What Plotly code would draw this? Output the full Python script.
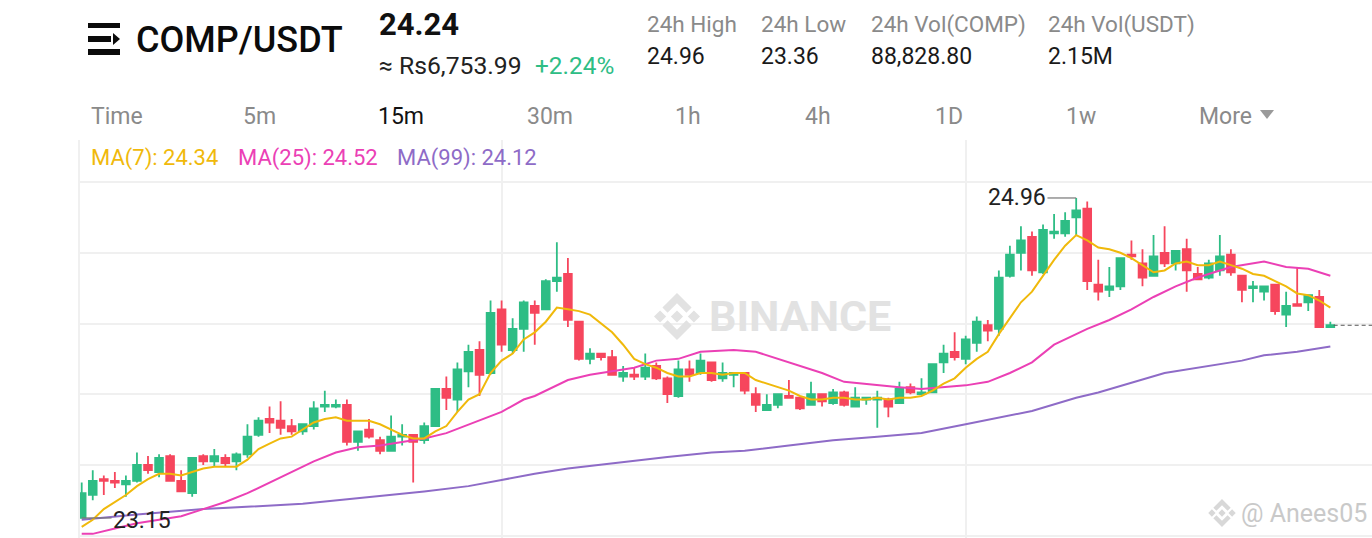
import plotly.graph_objects as go

W, H = 1372, 538

opens = [23.15,23.28,23.37,23.36,23.34,23.36,23.45,23.41,23.50,23.36,23.29,23.50,23.47,23.49,23.47,23.51,23.62,23.71,23.70,23.67,
         23.64,23.67,23.78,23.78,23.79,23.58,23.65,23.59,23.53,23.61,23.62,23.59,23.67,23.88,23.82,23.98,24.10,23.97,24.33,24.10,
         24.22,24.35,24.33,24.49,24.53,24.26,24.05,24.08,24.06,23.95,23.96,23.95,24.01,23.94,23.84,23.99,23.97,24.03,23.94,23.96,
         23.97,23.85,23.76,23.79,23.84,23.83,23.79,23.85,23.80,23.86,23.78,23.82,23.82,23.82,23.80,23.89,23.85,23.86,24.03,24.09,
         24.05,24.14,24.24,24.22,24.52,24.65,24.74,24.54,24.76,24.76,24.85,24.90,24.47,24.44,24.46,24.64,24.59,24.52,24.65,24.59,
         24.67,24.53,24.51,24.55,24.64,24.52,24.45,24.43,24.47,24.30,24.36,24.37,24.40,24.23]
highs = [23.35,23.42,23.39,23.41,23.39,23.52,23.50,23.51,23.51,23.42,23.49,23.51,23.54,23.51,23.52,23.68,23.72,23.78,23.81,23.71,
         23.68,23.81,23.87,23.82,23.82,23.64,23.71,23.61,23.73,23.68,23.62,23.69,23.88,23.95,24.03,24.13,24.15,24.38,24.38,24.28,
         24.38,24.38,24.50,24.71,24.62,24.26,24.11,24.08,24.10,24.01,24.00,24.08,24.03,23.95,24.04,24.04,24.08,24.03,24.03,23.97,
         23.97,23.89,23.85,23.85,23.93,23.83,23.92,23.85,23.88,23.87,23.89,23.83,23.87,23.83,23.92,23.91,23.94,24.02,24.13,24.20,
         24.18,24.29,24.27,24.55,24.69,24.80,24.77,24.81,24.87,24.88,24.96,24.94,24.61,24.57,24.62,24.72,24.67,24.75,24.80,24.66,
         24.73,24.57,24.61,24.75,24.67,24.52,24.49,24.46,24.47,24.43,24.57,24.41,24.44,24.26]
lows = [23.15,23.25,23.28,23.32,23.27,23.35,23.40,23.38,23.36,23.30,23.27,23.45,23.44,23.44,23.42,23.49,23.61,23.63,23.62,23.62,
        23.62,23.65,23.75,23.77,23.56,23.53,23.60,23.51,23.53,23.56,23.35,23.57,23.67,23.76,23.75,23.89,23.84,23.96,24.09,24.08,
        24.09,24.13,24.33,24.43,24.23,24.04,24.02,24.04,23.96,23.92,23.93,23.93,23.93,23.80,23.83,23.92,23.96,23.92,23.92,23.89,
        23.85,23.75,23.76,23.77,23.83,23.76,23.79,23.78,23.79,23.78,23.78,23.79,23.66,23.72,23.80,23.85,23.85,23.86,23.97,24.04,
        24.02,24.09,24.15,24.18,24.51,24.55,24.52,24.53,24.73,24.74,24.75,24.44,24.38,24.40,24.44,24.61,24.46,24.52,24.57,24.55,
        24.43,24.50,24.50,24.52,24.52,24.37,24.37,24.38,24.30,24.23,24.35,24.32,24.23,24.23]
closes = [23.29,23.36,23.36,23.35,23.36,23.45,23.42,23.49,23.36,23.30,23.49,23.47,23.50,23.46,23.51,23.61,23.70,23.69,23.66,23.64,
          23.68,23.77,23.79,23.79,23.58,23.64,23.61,23.53,23.61,23.62,23.58,23.67,23.88,23.83,23.99,24.09,23.96,24.31,24.13,24.22,
          24.37,24.31,24.49,24.51,24.27,24.05,24.08,24.06,23.96,23.97,23.95,24.00,23.94,23.85,23.99,23.96,24.04,23.93,23.97,23.97,
          23.87,23.79,23.79,23.85,23.83,23.77,23.85,23.81,23.86,23.79,23.83,23.83,23.83,23.78,23.88,23.86,23.86,24.02,24.08,24.06,
          24.16,24.26,24.21,24.51,24.64,24.72,24.55,24.78,24.77,24.83,24.89,24.49,24.43,24.46,24.62,24.63,24.51,24.63,24.59,24.66,
          24.55,24.50,24.59,24.63,24.54,24.44,24.46,24.46,24.32,24.35,24.35,24.41,24.23,24.24]

ma7 = [23.10,23.14,23.20,23.24,23.28,23.33,23.37,23.40,23.40,23.39,23.41,23.43,23.44,23.44,23.44,23.48,23.54,23.57,23.60,23.61,
       23.65,23.69,23.71,23.72,23.70,23.70,23.70,23.68,23.65,23.62,23.60,23.60,23.64,23.67,23.75,23.82,23.85,23.97,24.04,24.08,
       24.16,24.20,24.26,24.34,24.33,24.32,24.30,24.25,24.20,24.13,24.05,24.02,24.00,23.97,23.95,23.95,23.97,23.97,23.96,23.97,
       23.97,23.93,23.91,23.89,23.87,23.84,23.82,23.82,23.83,23.83,23.82,23.82,23.83,23.82,23.83,23.83,23.84,23.87,23.91,23.94,
       24.00,24.05,24.09,24.19,24.28,24.37,24.43,24.52,24.61,24.69,24.75,24.72,24.68,24.67,24.65,24.62,24.58,24.54,24.55,24.59,
       24.60,24.58,24.58,24.60,24.58,24.56,24.53,24.52,24.49,24.46,24.42,24.41,24.38,24.34]

ma25_idx = [0,1,3,5,7,9,11,13,15,17,19,21,23,25,27,29,31,33,36,38,40,41,44,46,48,50,52,54,56,59,61,63,65,67,69,72,74,76,78,80,
            82,84,86,88,90,91,93,95,97,99,101,102,104,107,109,111,113]
ma25_val = [23.06,23.06,23.09,23.12,23.14,23.16,23.20,23.24,23.29,23.35,23.41,23.47,23.52,23.55,23.56,23.58,23.60,23.63,23.70,23.75,
            23.82,23.84,23.93,23.96,23.98,24.00,24.04,24.05,24.09,24.10,24.09,24.05,24.01,23.97,23.92,23.90,23.89,23.88,23.89,23.90,
            23.92,23.97,24.03,24.13,24.19,24.22,24.27,24.33,24.40,24.46,24.51,24.53,24.57,24.60,24.57,24.56,24.52]

ma99_idx = [0,5,11,20,31,35,38,41,44,48,53,57,60,64,68,72,76,80,86,90,92,98,101,105,107,110,113]
ma99_val = [23.14,23.17,23.20,23.23,23.30,23.33,23.365,23.40,23.43,23.46,23.495,23.52,23.53,23.56,23.59,23.61,23.63,23.68,23.755,23.83,
            23.86,23.97,24.00,24.04,24.07,24.09,24.12]

y_grid = [25.05, 24.65, 24.25, 23.85, 23.45, 23.05]
x_grid = [38, 80]
idx = list(range(len(opens)))

GREEN, RED = "#2EBD85", "#F6465D"
YELLOW, PINK, PURPLE = "#F0B90B", "#EB40B5", "#8E6BC7"
GRID = "#F0F0F0"
FONT = "Roboto"


def px(x, y):
    return x / W, 1 - y / H


fig = go.Figure()
fig.add_trace(go.Candlestick(
    x=idx, open=opens, high=highs, low=lows, close=closes, whiskerwidth=0,
    increasing=dict(line=dict(color=GREEN, width=1.8), fillcolor=GREEN),
    decreasing=dict(line=dict(color=RED, width=1.8), fillcolor=RED),
    hoverinfo="skip", showlegend=False))
fig.add_trace(go.Scatter(x=ma99_idx, y=ma99_val, mode="lines", line=dict(color=PURPLE, width=2), hoverinfo="skip", showlegend=False))
fig.add_trace(go.Scatter(x=ma25_idx, y=ma25_val, mode="lines", line=dict(color=PINK, width=2), hoverinfo="skip", showlegend=False))
fig.add_trace(go.Scatter(x=idx, y=ma7, mode="lines", line=dict(color=YELLOW, width=2), hoverinfo="skip", showlegend=False))
# high / low / last-price leader lines
fig.add_trace(go.Scatter(x=[87.4, 90], y=[24.96, 24.96], mode="lines", line=dict(color="#777777", width=1.2), hoverinfo="skip", showlegend=False))
fig.add_trace(go.Scatter(x=[0, 2.7], y=[23.15, 23.15], mode="lines", line=dict(color="#777777", width=1.2), hoverinfo="skip", showlegend=False))
fig.add_trace(go.Scatter(x=[113.3, 116.8], y=[24.24, 24.24], mode="lines", line=dict(color="#555555", width=1.2, dash="4px,3px"), hoverinfo="skip", showlegend=False))

annots = []


def text(s, x, y, size, color, weight=400, anchor="left", family=FONT):
    ax, ay = px(x - 1.5, y)
    annots.append(dict(text=s, x=ax, y=ay, xref="paper", yref="paper", xanchor=anchor, yanchor="middle",
                       showarrow=False, borderpad=0, font=dict(family=family, size=size, color=color, weight=weight)))


text("COMP/USDT", 136, 40, 36, "#0b0b0b", 500)
text("24.24", 379, 25, 31, "#111111", 700)
text("≈ Rs6,753.99", 379, 65, 24.7, "#222222")
text("+2.24%", 535, 65, 24.4, GREEN)
for s, x in [("24h High", 647), ("24h Low", 762), ("24h Vol(COMP)", 871), ("24h Vol(USDT)", 1048)]:
    text(s, x, 24, 22.5, "#8A8A8A")
for s, x in [("24.96", 647), ("23.36", 762), ("88,828.80", 871), ("2.15M", 1048)]:
    text(s, x, 56, 23, "#1a1a1a")
for s, x, c in [("Time", 91, "#8A8A8A"), ("5m", 243, "#8A8A8A"), ("15m", 378, "#111111"), ("30m", 527, "#8A8A8A"), ("1h", 675, "#8A8A8A"),
                ("4h", 805, "#8A8A8A"), ("1D", 935, "#8A8A8A"), ("1w", 1066, "#8A8A8A"), ("More", 1199, "#8A8A8A")]:
    text(s, x, 116, 23, c)
text("MA(7): 24.34", 91, 158, 22, YELLOW)
text("MA(25): 24.52", 238, 158, 22, PINK)
text("MA(99): 24.12", 397, 158, 22, PURPLE)
text("BINANCE", 709, 316, 43, "#E2E2E2", 700)
text("@ Anees05", 1241, 513, 25, "#C9C9C9")

# price labels on the chart
annots.append(dict(text="24.96", x=87.4, y=24.96, xref="x", yref="y", xanchor="right", yanchor="middle", showarrow=False, borderpad=0,
                   font=dict(family=FONT, size=23, color="#222222")))
annots.append(dict(text="23.15", x=2.7, y=23.135, xref="x", yref="y", xanchor="left", yanchor="middle", showarrow=False, borderpad=0,
                   font=dict(family=FONT, size=23, color="#222222")))

shapes = []


def path(points, color, layer="above"):
    d = "M" + " L".join(f"{px(a, b)[0]:.5f},{px(a, b)[1]:.5f}" for a, b in points) + " Z"
    shapes.append(dict(type="path", path=d, xref="paper", yref="paper", fillcolor=color, line=dict(width=0), layer=layer))


def rect(x0, y0, x1, y1, color):
    path([(x0, y0), (x1, y0), (x1, y1), (x0, y1)], color)


def binance_logo(cx, cy, s, color):
    r = 0.26 * s
    for dx, dy in [(0, 0), (-0.72 * s, 0), (0.72 * s, 0)]:
        path([(cx + dx, cy + dy - r), (cx + dx + r, cy + dy), (cx + dx, cy + dy + r), (cx + dx - r, cy + dy)], color)
    for sgn in (-1, 1):
        path([(cx, cy + sgn * s), (cx + 0.62 * s, cy + sgn * 0.38 * s), (cx + 0.40 * s, cy + sgn * 0.16 * s), (cx, cy + sgn * 0.56 * s),
              (cx - 0.40 * s, cy + sgn * 0.16 * s), (cx - 0.62 * s, cy + sgn * 0.38 * s)], color)


# header icon
rect(88, 23, 120, 28, "#0b0b0b")
rect(88, 36, 111, 42, "#0b0b0b")
path([(113, 33), (120, 39), (113, 45)], "#0b0b0b")
rect(88, 49, 120, 55, "#0b0b0b")
# "More" caret
path([(1260, 110), (1274, 110), (1267, 119)], "#9A9A9A")
binance_logo(677, 316.5, 23.5, "#E2E2E2")
binance_logo(1222, 513, 14, "#D8D8D8")

fig.update_layout(
    width=W, height=H, margin=dict(l=0, r=0, t=0, b=0), paper_bgcolor="white", plot_bgcolor="white",
    boxgap=0.3, boxgroupgap=0, showlegend=False, annotations=annots, shapes=shapes,
    xaxis=dict(domain=[80 / W, 1], range=[-0.154, 116.77], tickvals=x_grid, showticklabels=False, ticks="",
               showgrid=True, gridcolor=GRID, gridwidth=1.5, zeroline=False, rangeslider=dict(visible=False), showline=False),
    yaxis=dict(domain=[0, (H - 140) / H], range=[23.0366, 25.288], tickvals=y_grid, showticklabels=False, ticks="",
               showgrid=True, gridcolor=GRID, gridwidth=1.5, zeroline=False, showline=True, linecolor=GRID, linewidth=1.5),
)
fig.write_html("out.html", config={"displayModeBar": False},
               post_script="document.body.style.margin='0';document.documentElement.style.overflow='hidden';")
